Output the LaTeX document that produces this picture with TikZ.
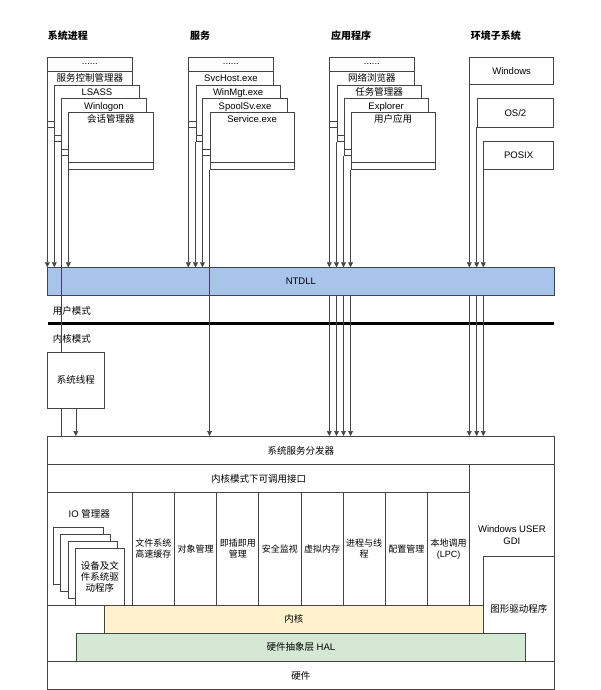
\documentclass[tikz,border=0pt]{standalone}
\usepackage{fontspec}
\setmainfont{Liberation Sans}
\newfontfamily\cjk{Noto Sans CJK SC}
\usepackage{tikz}
\usetikzlibrary{arrows.meta}

\definecolor{linegray}{HTML}{444444}
\definecolor{ntdllblue}{HTML}{A9C4EB}
\definecolor{kernelyellow}{HTML}{FFF2CC}
\definecolor{halgreen}{HTML}{D5E8D4}

\begin{document}
\begin{tikzpicture}[x=1pt, y=-1pt]
		\tikzstyle{Box}		= [rectangle, draw=linegray, line width=0.7pt, fill=white, anchor=north west, inner sep=0pt, font=\fontsize{9.5}{11.5}\selectfont]
		\tikzstyle{Head}	= [Box, minimum width=84.5, minimum height=14]
		\tikzstyle{Card}	= [Box, minimum width=84.5, text height=10.3pt, text depth=46.4pt,
							   path picture={\draw [linegray, line width=0.7pt] ([yshift=6.7pt]path picture bounding box.south west) -- ([yshift=6.7pt]path picture bounding box.south east);}]
		\tikzstyle{Driver}	= [Box, minimum width=49.6, minimum height=57.5]
		\tikzstyle{Module}	= [Box, minimum width=42.16, minimum height=112.7, align=center, font=\cjk\fontsize{9}{11}\selectfont]
		\tikzstyle{Title}	= [anchor=west, inner sep=0pt, font=\cjk\bfseries\fontsize{10}{12}\selectfont]
		\tikzstyle{Plain}	= [anchor=west, inner sep=0pt, font=\cjk\fontsize{9.5}{11.5}\selectfont]
		\tikzstyle{Link}	= [draw=linegray, line width=0.7pt]
		\tikzstyle{Call}	= [Link, -{Triangle[length=5pt, width=4.8pt]}]

		\useasboundingbox (0,0) rectangle (600,690);

		% user mode
		\node (tsys) at (47.7,36) [Title] {系统进程};
		\node (tsvc) at (190,36) [Title] {服务};
		\node (tapp) at (331,36) [Title] {应用程序};
		\node (tenv) at (470.7,36) [Title] {环境子系统};

		\node (s0) at (47.3,56.7) [Head] {......};
		\node (s1) at (47.3,70.7) [Card] {\cjk 服务控制管理器};
		\node (s2) at (54.3,84.6) [Card] {LSASS};
		\node (s3) at (61.3,98.5) [Card] {Winlogon};
		\node (s4) at (68.3,112.3) [Card] {\cjk 会话管理器};

		\node (v0) at (188.3,56.7) [Head] {......};
		\node (v1) at (188.3,70.7) [Card] {SvcHost.exe};
		\node (v2) at (195.5,84.6) [Card] {WinMgt.exe};
		\node (v3) at (202.4,98.5) [Card] {SpoolSv.exe};
		\node (v4) at (209.5,112.3) [Card] {Service.exe};

		\node (a0) at (329.3,56.7) [Head] {......};
		\node (a1) at (329.3,70.7) [Card] {\cjk 网络浏览器};
		\node (a2) at (336.5,84.6) [Card] {\cjk 任务管理器};
		\node (a3) at (343.5,98.5) [Card] {Explorer};
		\node (a4) at (350.6,112.3) [Card] {\cjk 用户应用};

		\node (e1) at (469.3,56.7) [Box, minimum width=84, minimum height=27.6] {Windows};
		\node (e2) at (476.7,98.3) [Box, minimum width=76.6, minimum height=28.4] {OS/2};
		\node (e3) at (483.3,140.7) [Box, minimum width=70, minimum height=28.3] {POSIX};

		\node (ntdll) at (47.3,267.3) [Box, fill=ntdllblue, minimum width=506.4, minimum height=28] {NTDLL};
		\node (um) at (52.7,310.7) [Plain] {用户模式};
		\node (bar) at (47.3,321.5) [anchor=north west, fill=black, inner sep=0pt, minimum width=506.4, minimum height=3.7] {};
		\node (km) at (52.7,338.7) [Plain] {内核模式};

		% kernel mode
		\node (frame) at (47.3,436) [Box, minimum width=506.4, minimum height=253.3] {};
		\node (disp) at (47.3,436) [Box, minimum width=506.4, minimum height=28.3] {\cjk 系统服务分发器};
		\node (kapi) at (47.3,464.3) [Box, minimum width=422, minimum height=28] {\cjk 内核模式下可调用接口};
		\node (gdi) at (469.3,464.3) [Box, minimum width=84.4, minimum height=140.7, align=center] {Windows USER\\GDI};
		\node (gdrv) at (483.3,556) [Box, minimum width=70.4, minimum height=105] {\cjk 图形驱动程序};

		\node (io) at (47.3,492.3) [Box, minimum width=84.7, minimum height=112.7] {};
		\node (iotext) at (89.3,514.3) [font=\fontsize{9.5}{11.5}\selectfont, inner sep=0pt] {IO {\cjk 管理器}};
		\node (d1) at (53.3,526.7) [Driver] {};
		\node (d2) at (60.4,533.6) [Driver] {};
		\node (d3) at (67.5,540.5) [Driver] {};
		\node (d4) at (74.7,547.5) [Driver, align=center, font=\cjk\fontsize{9.5}{11}\selectfont] {设备及文\\件系统驱\\动程序};

		\node (m1) at (132,492.3) [Module] {文件系统\\高速缓存};
		\node (m2) at (174.16,492.3) [Module] {对象管理};
		\node (m3) at (216.32,492.3) [Module] {即插即用\\管理};
		\node (m4) at (258.48,492.3) [Module] {安全监视};
		\node (m5) at (300.64,492.3) [Module] {虚拟内存};
		\node (m6) at (342.8,492.3) [Module] {进程与线\\程};
		\node (m7) at (384.96,492.3) [Module] {配置管理};
		\node (m8) at (427.12,492.3) [Module] {本地调用\\{\normalfont (LPC)}};

		\node (kernel) at (103.7,605) [Box, fill=kernelyellow, minimum width=379.6, minimum height=27.7] {\cjk 内核};
		\node (hal) at (75.7,632.7) [Box, fill=halgreen, minimum width=449.6, minimum height=28.3] {{\cjk 硬件抽象层} HAL};
		\node (hw) at (47.3,661) [Box, minimum width=506.4, minimum height=28.3] {\cjk 硬件};

		% calls into NTDLL and the kernel
		\draw [Call] (s1.south west) to (s1.south west |- ntdll.north);
		\draw [Call] (s2.south west) to (s2.south west |- ntdll.north);
		\draw [Link] (s3.south west) to (s3.south west |- disp.north);
		\draw [Call] (s4.south west) to (s4.south west |- ntdll.north);

		\draw [Call] (v1.south west) to (v1.south west |- ntdll.north);
		\draw [Call] (v2.south west) to (v2.south west |- ntdll.north);
		\draw [Call] (v3.south west) to (v3.south west |- ntdll.north);
		\draw [Call] (v4.south west) to (v4.south west |- disp.north);

		\draw [Call] (a1.south west) to (a1.south west |- ntdll.north);
		\draw [Call] (a2.south west) to (a2.south west |- ntdll.north);
		\draw [Call] (a3.south west) to (a3.south west |- ntdll.north);
		\draw [Call] (a4.south west) to (a4.south west |- ntdll.north);
		\draw [Call] (a1.south west |- ntdll.south) to (a1.south west |- disp.north);
		\draw [Call] (a2.south west |- ntdll.south) to (a2.south west |- disp.north);
		\draw [Call] (a3.south west |- ntdll.south) to (a3.south west |- disp.north);
		\draw [Call] (a4.south west |- ntdll.south) to (a4.south west |- disp.north);

		\draw [Call] (e1.south west) to (e1.south west |- ntdll.north);
		\draw [Call] (e2.south west) to (e2.south west |- ntdll.north);
		\draw [Call] (e3.south west) to (e3.south west |- ntdll.north);
		\draw [Call] (e1.south west |- ntdll.south) to (e1.south west |- disp.north);
		\draw [Call] (e2.south west |- ntdll.south) to (e2.south west |- disp.north);
		\draw [Call] (e3.south west |- ntdll.south) to (e3.south west |- disp.north);

		\node (thread) at (47.3,351.7) [Box, minimum width=56.4, minimum height=56.3] {\cjk 系统线程};
		\draw [Call] (thread.south) to (thread.south |- disp.north);
	\end{tikzpicture}
\end{document}
